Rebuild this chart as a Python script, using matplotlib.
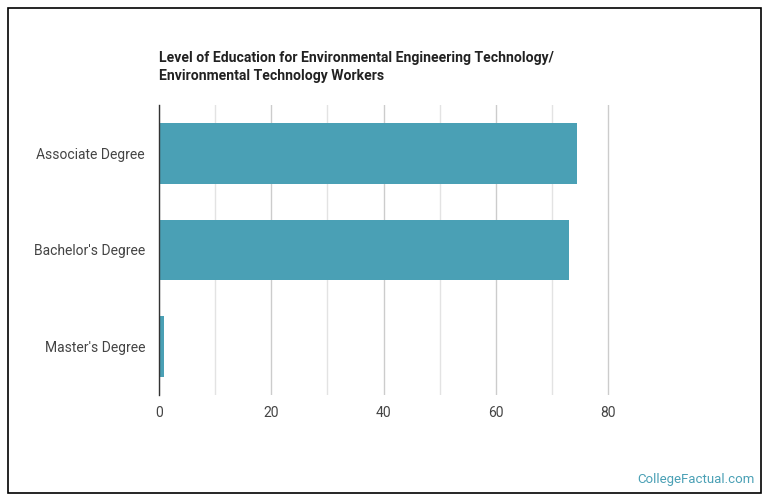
import matplotlib.pyplot as plt
from matplotlib.patches import Rectangle

# datos
categorias = ['Associate Degree', "Bachelor's Degree", "Master's Degree"]
valores = [74.5, 73.0, 0.9]
ticks_x = [0, 20, 40, 60, 80]

plt.rcParams['font.family'] = ['Roboto', 'DejaVu Sans']

fig = plt.figure(figsize=(7.7, 5.03), dpi=100)
# 0 -> 159 px, 80 -> 608 px; se deja un margen hasta 82 para que la ultima linea se vea
ax = fig.add_axes([159 / 770, 1 - 395 / 503, (82 * 449 / 80) / 770, 290 / 503])

posiciones = list(range(len(categorias)))
ax.barh(posiciones, valores, height=0.63, color='#4aa0b5', zorder=3)
ax.set_ylim(len(categorias) - 0.5, -0.5)
ax.set_xlim(0, 82)
ax.set_yticks(posiciones)
ax.set_yticklabels(categorias, fontsize=10, color='#444444')
ax.set_xticks(ticks_x)
ax.set_xticklabels([str(t) for t in ticks_x], fontsize=10, color='#444444')
ax.set_xticks([10, 30, 50, 70], minor=True)

# rejilla
ax.grid(axis='x', which='major', color='#cccccc', linewidth=1, zorder=0)
ax.grid(axis='x', which='minor', color='#e3e3e3', linewidth=1, zorder=0)
ax.tick_params(axis='both', which='both', length=0, pad=8)
ax.tick_params(axis='y', pad=10)
for lado in ['top', 'right', 'bottom']:
    ax.spines[lado].set_visible(False)
ax.spines['left'].set_color('#333333')
ax.spines['left'].set_linewidth(1)
ax.spines['left'].set_zorder(4)

# titulo
fig.text(159 / 770, 1 - 58 / 503, 'Level of Education for Environmental Engineering Technology/',
         fontsize=10.1, fontweight='bold', color='#222222', va='center')
fig.text(159 / 770, 1 - 76 / 503, 'Environmental Technology Workers',
         fontsize=10.1, fontweight='bold', color='#222222', va='center')

# marca
fig.text(755 / 770, 1 - 480 / 503, 'CollegeFactual.com', fontsize=9.5, color='#4aa0b5',
         ha='right', va='center')

# marco exterior
fig.patches.append(Rectangle((8 / 770, 1 - 493 / 503), 753 / 770, 485 / 503,
                             transform=fig.transFigure, fill=False,
                             edgecolor='black', linewidth=1.2))

fig.savefig('out.png', dpi=100)
